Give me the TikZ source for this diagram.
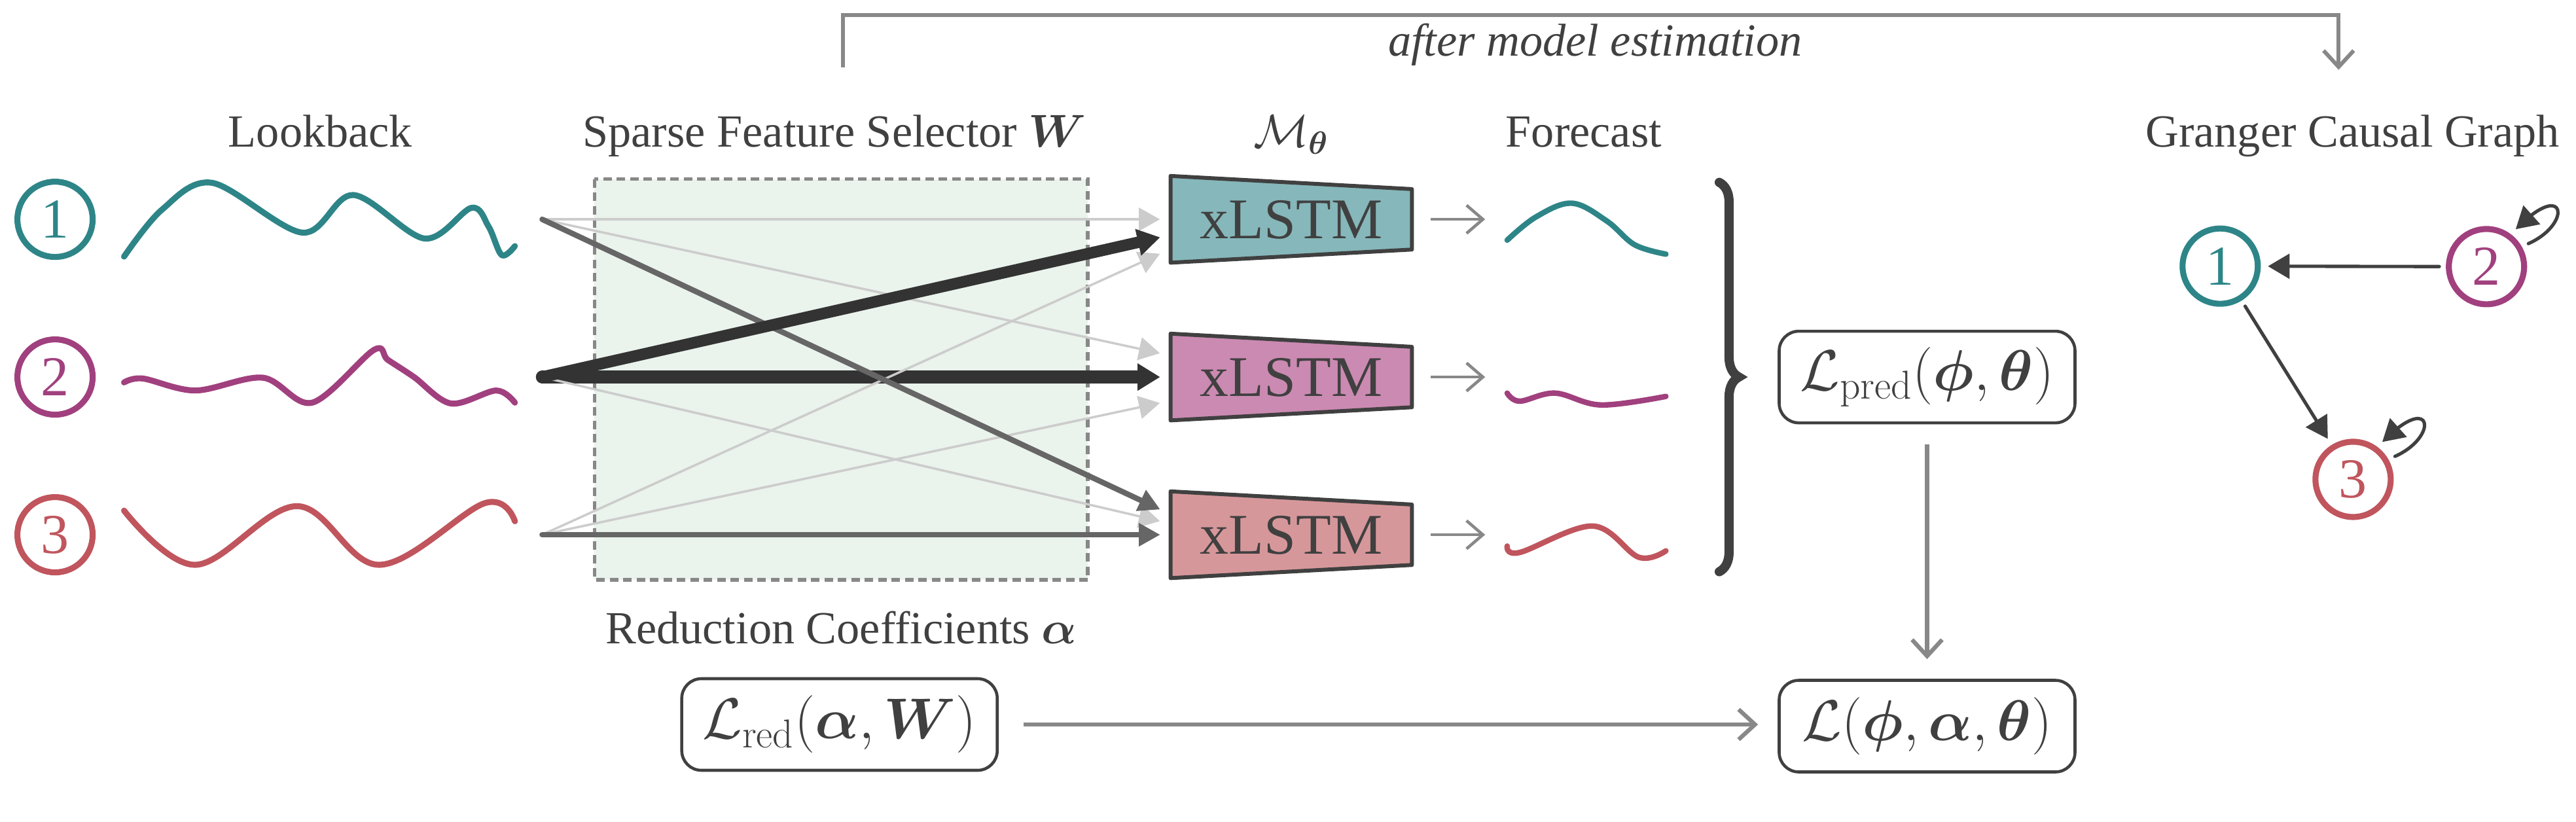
\documentclass[tikz,border=0pt]{standalone}
\usepackage{fix-cm}
\usepackage{amsmath,bm}
\usepackage[no-math]{fontspec}
\setmainfont{Liberation Serif}
\usetikzlibrary{arrows.meta,bending,calc,decorations.pathreplacing}
\definecolor{cA}{HTML}{2E8588}
\definecolor{cB}{HTML}{A1407E}
\definecolor{cC}{HTML}{C0555D}
\definecolor{fA}{HTML}{86B7BA}
\definecolor{fB}{HTML}{CB8AB2}
\definecolor{fC}{HTML}{D6979B}
\definecolor{txt}{HTML}{404040}
\definecolor{grayline}{HTML}{888888}
\definecolor{lightline}{HTML}{CCCCCC}
\definecolor{midline}{HTML}{666666}
\definecolor{darkline}{HTML}{333333}
\definecolor{selfill}{HTML}{EAF3EC}
\begin{document}
\begin{tikzpicture}[x=0.0251cm,y=-0.0251cm,
  lbl/.style={text=txt,font=\fontsize{20}{24}\selectfont,inner sep=0pt,anchor=base},
  numc/.style={circle,draw=#1,text=#1,line width=2.6pt,minimum size=1.15cm,inner sep=0pt,font=\fontsize{24.5}{28}\selectfont},
  series/.style={line width=2.6pt,line cap=round,line join=round},
  selarr/.style={line cap=round,-{Triangle[length=0.32cm,width=0.36cm,line width=0pt]}},
  lightarr/.style={selarr,draw=lightline,line width=1pt},
  medarr/.style={selarr,draw=midline,line width=2.4pt},
  darkarr/.style={line cap=round,draw=darkline,-{Triangle[length=0.34cm,width=0.42cm,line width=0pt]}},
  xbox/.style={draw=txt,line width=1.7pt,line join=round},
  xtext/.style={text=txt,font=\fontsize{25}{30}\selectfont,inner sep=0pt,anchor=base},
  farrow/.style={draw=grayline,line width=1.3pt,-{Straight Barb[length=0.25cm,width=0.43cm]}},
  garrow/.style={draw=grayline,line width=1.8pt,-{Straight Barb[length=0.25cm,width=0.46cm]}},
  lossbox/.style={draw=txt,line width=1.3pt,rounded corners=0.3cm,text=txt,font=\fontsize{25}{30}\selectfont,minimum height=1.4cm,inner sep=0pt},
  gedge/.style={draw=txt,line width=1.45pt,line cap=round,-{Triangle[length=0.33cm,width=0.39cm,line width=0pt]}},
  selbox/.style={draw=grayline,fill=selfill,line width=1.6pt,dash pattern=on 0.13cm off 0.075cm}
]
\useasboundingbox (0,0) rectangle (1568,500.35);

% headers
\node[lbl] (hLook) at (195,89.6) {Lookback};
\node[lbl] (hSel) at (508,89.6) {Sparse Feature Selector $\bm{W}$};
\node[lbl] (hM) at (786,89.6) {$\mathcal{M}_{\bm{\theta}}$};
\node[lbl] (hFc) at (964,89.6) {Forecast};
\node[lbl] (hGr) at (1432,89.6) {Granger Causal Graph};
\node[lbl,font=\fontsize{20}{24}\selectfont\itshape] (hAfter) at (971,33.9) {after model estimation};
\node[lbl] (hRed) at (512,391.7) {Reduction Coefficients $\bm{\alpha}$};

% top bracket
\coordinate (tbl) at (513,41);
\coordinate (tbl2) at (513,9);
\coordinate (tbr2) at (1423.5,9);
\coordinate (tbr) at (1423.5,42.5);
\draw[garrow,line width=1.7pt] (tbl) -- (tbl2) -- (tbr2) -- (tbr);

% circled indices
\node[numc=cA] (c1) at (33.5,133.5) {1};
\node[numc=cB] (c2) at (33.5,229.5) {2};
\node[numc=cC] (c3) at (33.5,325.5) {3};

% lookback series
\draw[series,draw=cA] plot[smooth,tension=0.55] coordinates {(75.5,156.2) (98.4,127.8) (129.2,111.3) (184.1,141.6) (215,118.7) (258.5,145.2) (287,126.5) (297.4,137.9) (305.4,155.3) (313.4,149.8)};
\draw[series,draw=cB] plot[smooth,tension=0.55] coordinates {(75.5,232.8) (86.9,230.4) (119,237.7) (160,229.9) (190,245.1) (227.6,213) (236,219) (252,229.5) (274.5,245.6) (302,237.7) (313.4,245.1)};
\draw[series,draw=cC] plot[smooth,tension=0.6] coordinates {(75.5,310.8) (119,343.8) (180.7,308.1) (231,343.8) (295,306.3) (313.4,317.3)};

% selector box
\draw[selbox] (361.9,109) rectangle (662.2,353);

% sources and targets
\coordinate (s1) at (330,133.5);
\coordinate (s2) at (330,229.5);
\coordinate (s3) at (330,325.5);
\coordinate (t11) at (706,133.5);
\coordinate (t12) at (706,144.5);
\coordinate (t13) at (706,154.5);
\coordinate (t21) at (706,215);
\coordinate (t22) at (706,229.5);
\coordinate (t23) at (706,245.3);
\coordinate (t31) at (706,310);
\coordinate (t32) at (706,317.2);
\coordinate (t33) at (706,325.5);

\draw[darkarr,line width=5.5pt] (s2) -- (t22);
\draw[lightarr] (s1) -- (t11);
\draw[lightarr] (s1) -- (t21);
\draw[lightarr] (s2) -- (t32);
\draw[lightarr] (s3) -- (t13);
\draw[lightarr] (s3) -- (t23);
\draw[medarr] (s1) -- (t31);
\draw[medarr] (s3) -- (t33);
\draw[darkarr,line width=5pt] (s2) -- (t12);

% xLSTM blocks
\foreach \i/\y/\f in {1/133.5/fA,2/229.5/fB,3/325.5/fC}{
  \draw[xbox,fill=\f] (712.5,{\y-26.4}) -- (859.4,{\y-18.4}) -- (859.4,{\y+18.4}) -- (712.5,{\y+26.4}) -- cycle;
  \node[xtext] (x\i) at (786,{\y+11.9}) {xLSTM};
  \coordinate (fa\i) at (871,\y);
  \coordinate (fb\i) at (904,\y);
  \draw[farrow] (fa\i) -- (fb\i);
}

% forecasts
\draw[series,draw=cA,line width=2.4pt] plot[smooth,tension=0.6] coordinates {(917.4,146.2) (935,132) (956.8,123.7) (978,134.5) (995,149) (1014,154.7)};
\draw[series,draw=cB,line width=2.4pt] plot[smooth,tension=0.6] coordinates {(917.4,239.3) (925,244.2) (946.6,239.3) (974.5,246.5) (1014,241.3)};
\draw[series,draw=cC,line width=2.4pt] plot[smooth,tension=0.6] coordinates {(917.4,332.4) (925,336.3) (969.5,320.2) (997.5,339.2) (1014,335.3)};

% brace
\coordinate (bt) at (1046.5,111);
\coordinate (bb) at (1046.5,348);
\draw[decorate,decoration={brace,amplitude=0.3cm},draw=txt,line width=4pt,line cap=round] (bt) -- (bb);

% losses
\node[lossbox,minimum width=4.52cm] (Lpred) at (1173,229.5) {$\mathcal{L}_{\mathrm{pred}}(\bm{\phi},\bm{\theta})$};
\node[lossbox,minimum width=4.52cm] (Ltot) at (1173,442) {$\mathcal{L}(\bm{\phi},\bm{\alpha},\bm{\theta})$};
\node[lossbox,minimum width=4.82cm] (Lred) at (511,441) {$\mathcal{L}_{\mathrm{red}}(\bm{\alpha},\bm{W})$};
\draw[garrow] ($(Lpred.south)+(0,12)$) -- ($(Ltot.north)+(0,-12)$);
\draw[garrow,shorten <=0.377cm,shorten >=0.3cm] (Lred.east) -- (Lred.east -| Ltot.west);

% Granger causal graph
\node[numc=cA] (g1) at (1351.4,162) {1};
\node[numc=cB] (g2) at (1513.5,162.3) {2};
\node[numc=cC] (g3) at (1432.3,291.8) {3};
\draw[gedge,shorten <=0.1cm,shorten >=0.11cm] (g2) -- (g1);
\draw[gedge,shorten <=0.1cm,shorten >=0.11cm] (g1) -- (g3);
\draw[gedge] ($(g2)+(25.5,-14)$) .. controls ($(g2)+(52.5,-26)$) and ($(g2)+(48.5,-54)$) .. ($(g2)+(17.8,-22.8)$);
\draw[gedge] ($(g3)+(25.5,-14)$) .. controls ($(g3)+(52.5,-26)$) and ($(g3)+(48.5,-54)$) .. ($(g3)+(17.8,-22.8)$);
\end{tikzpicture}
\end{document}
